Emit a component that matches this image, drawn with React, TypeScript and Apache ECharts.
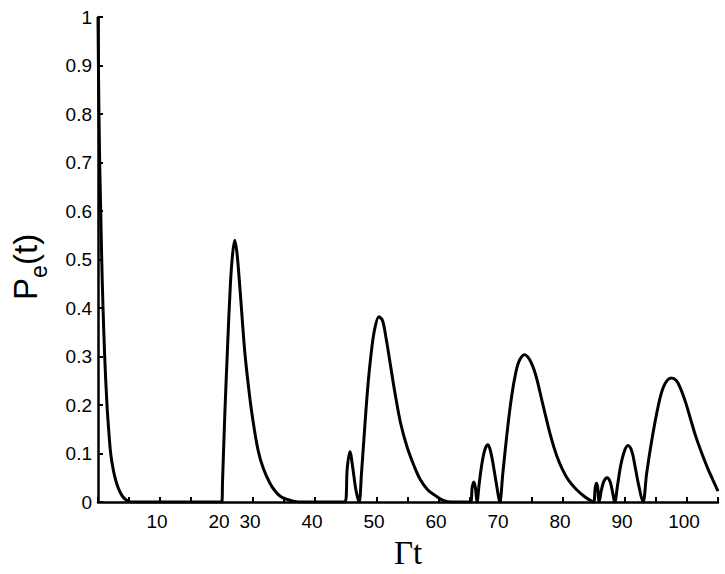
import React, { useEffect, useRef } from "react";
import * as echarts from "echarts";

// Γt values (x) and P_e(t) values (y)
const gammaT = [
  0, 0.1, 0.2, 0.3, 0.44, 0.6, 0.81, 1.08, 1.45, 1.75, 2.05, 2.5, 2.97, 3.5, 4.0, 4.5, 5.1, 6,
  19.95, 20.08, 20.44, 20.87, 21.35, 21.7, 22.05, 22.4, 22.85, 23.66, 24.3, 24.9, 25.8, 26.7, 27.69, 28.5, 29.4, 30.39, 31.5, 33,
  39.82, 40.2, 40.63, 41.1, 41.6, 42.1,
  42.5, 43.0, 43.5, 44.0, 44.6, 45.32, 45.9, 46.5, 47.2, 47.9, 48.8, 49.84, 51, 52, 53.2, 54.58, 55.6, 57,
  60.06, 60.35, 60.6, 60.87, 61.13,
  61.5, 62, 62.45, 62.9, 63.4, 63.9, 64.35, 64.79,
  65.3, 65.87, 66.52, 67.2, 67.9, 68.82, 69.7, 70.6, 71.68, 72.97, 74, 75, 76, 77.16, 78.4, 79.58, 79.95,
  80.2, 80.39, 80.6, 80.81,
  81.2, 81.6, 82.1, 82.6, 83, 83.34,
  83.8, 84.3, 84.9, 85.48, 86.1, 86.6, 87.2, 87.9,
  88.5, 89.42, 90.39, 91.13, 91.8, 92.48, 93.3, 94, 94.79, 95.6, 96.4, 97.4, 98.39, 99.2, 100,
];
const pe = [
  1, 0.86, 0.76, 0.68, 0.6, 0.5, 0.4, 0.3, 0.2, 0.145, 0.1, 0.064, 0.04, 0.022, 0.011, 0.005, 0.001, 0,
  0, 0.04, 0.176, 0.312, 0.448, 0.51, 0.54, 0.515, 0.448, 0.312, 0.235, 0.176, 0.108, 0.068, 0.04, 0.024, 0.012, 0.006, 0.002, 0,
  0, 0.07, 0.104, 0.07, 0.025, 0,
  0.06, 0.15, 0.235, 0.3, 0.355, 0.382, 0.374, 0.335, 0.28, 0.225, 0.163, 0.114, 0.074, 0.046, 0.025, 0.012, 0.004, 0,
  0, 0.03, 0.0415, 0.03, 0,
  0.04, 0.085, 0.11, 0.118, 0.1, 0.065, 0.03, 0,
  0.06, 0.13, 0.2, 0.255, 0.29, 0.304, 0.292, 0.262, 0.205, 0.138, 0.095, 0.065, 0.043, 0.026, 0.012, 0.002, 0,
  0.03, 0.039, 0.03, 0,
  0.025, 0.043, 0.05, 0.042, 0.02, 0,
  0.035, 0.075, 0.105, 0.1165, 0.105, 0.075, 0.035, 0,
  0.06, 0.135, 0.2, 0.235, 0.251, 0.256, 0.25, 0.233, 0.205, 0.17, 0.136, 0.1, 0.068, 0.045, 0.0225,
];

// x tick label positions (tick values) and the texts printed there in the reference
const xLabelTicks = [10, 20, 25, 35, 45, 55, 65, 75, 85, 95];
const xLabelTexts = ["10", "20", "30", "40", "50", "60", "70", "80", "90", "100"];

const X_MIN = 0;
const X_MAX = 100;
const X_STEP = 5;
const Y_MIN = 0;
const Y_MAX = 1;
const Y_STEP = 0.1;

const SANS = "Liberation Sans, Arial, Helvetica, sans-serif";
const SERIF = "Liberation Serif, Times New Roman, serif";

export default function App() {
  const ref = useRef<HTMLDivElement>(null);

  useEffect(() => {
    if (!ref.current) return;
    const chart = echarts.init(ref.current, undefined, { renderer: "svg" });
    const data = gammaT.map((t, i) => [t, pe[i]]);
    chart.setOption({
      animation: false,
      backgroundColor: "#ffffff",
      grid: { left: 98, right: 7, top: 17, bottom: 68, containLabel: false },
      xAxis: {
        type: "value",
        min: X_MIN,
        max: X_MAX,
        interval: X_STEP,
        name: "Γt",
        nameLocation: "middle",
        nameGap: 29,
        nameTextStyle: { fontFamily: SERIF, fontSize: 33, color: "#000" },
        axisLine: { show: true, onZero: false, lineStyle: { color: "#000", width: 2.5 } },
        axisTick: { show: true, inside: true, length: 5, lineStyle: { color: "#000", width: 2 } },
        axisLabel: {
          customValues: xLabelTicks,
          formatter: (v: number) => {
            const i = xLabelTicks.indexOf(v);
            return i >= 0 ? xLabelTexts[i] : "";
          },
          color: "#000",
          fontFamily: SANS,
          fontSize: 19,
          margin: 10,
          padding: [0, 6, 0, 0],
        },
        splitLine: { show: false },
      },
      yAxis: {
        type: "value",
        min: Y_MIN,
        max: Y_MAX,
        interval: Y_STEP,
        axisLine: { show: true, onZero: false, lineStyle: { color: "#000", width: 2.5 } },
        axisTick: { show: true, inside: true, length: 5, lineStyle: { color: "#000", width: 2 } },
        axisLabel: {
          color: "#000",
          fontFamily: SANS,
          fontSize: 19,
          margin: 6,
          formatter: (v: number) => String(Math.round(v * 10) / 10),
        },
        splitLine: { show: false },
      },
      graphic: [
        {
          type: "group",
          x: 42,
          y: 300,
          rotation: Math.PI / 2,
          children: [
            {
              type: "text",
              x: 0,
              y: 0,
              style: { text: "P", fontFamily: SANS, fontSize: 33, fill: "#000", align: "left", verticalAlign: "bottom" },
            },
            {
              type: "text",
              x: 22,
              y: 8,
              style: { text: "e", fontFamily: SANS, fontSize: 23, fill: "#000", align: "left", verticalAlign: "bottom" },
            },
            {
              type: "text",
              x: 35,
              y: 0,
              style: { text: "(t)", fontFamily: SANS, fontSize: 33, fill: "#000", align: "left", verticalAlign: "bottom" },
            },
          ],
        },
      ],
      series: [
        {
          type: "line",
          data,
          showSymbol: false,
          smooth: 0.35,
          lineStyle: { color: "#000", width: 3 },
          clip: true,
        },
      ],
    });
    return () => chart.dispose();
  }, []);

  return <div ref={ref} style={{ position: "fixed", left: 0, top: 0, width: 725, height: 574 }} />;
}
